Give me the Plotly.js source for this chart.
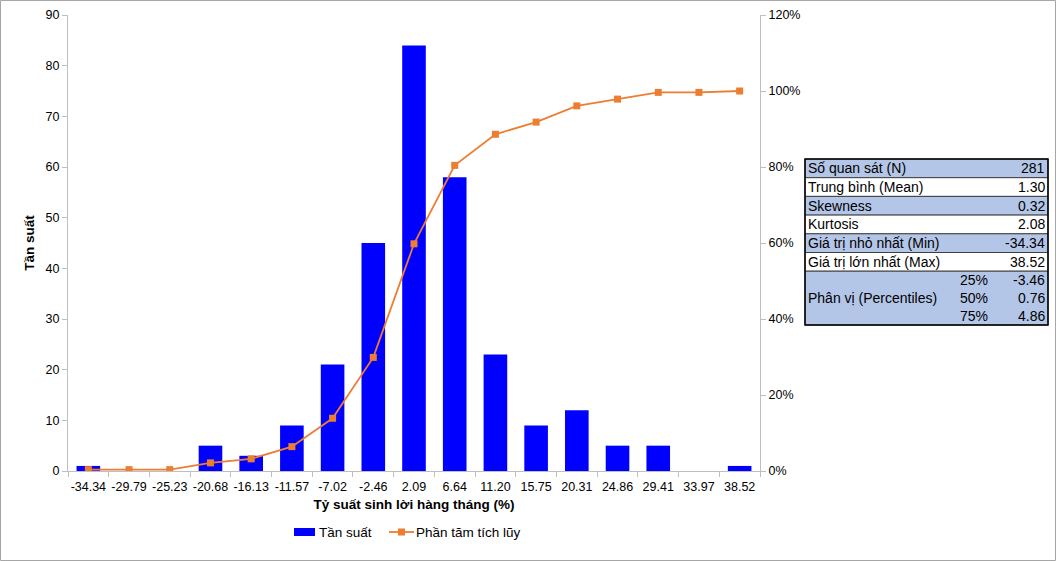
<!DOCTYPE html>
<html>
<head>
<meta charset="utf-8">
<script src="https://cdn.plot.ly/plotly-3.0.1.min.js"></script>
<style>
html,body{margin:0;padding:0;background:#fff;}
#chart{width:1056px;height:561px;}
</style>
</head>
<body>
<div id="chart"></div>
<script>
var categories = ["-34.34","-29.79","-25.23","-20.68","-16.13","-11.57","-7.02","-2.46","2.09","6.64","11.20","15.75","20.31","24.86","29.41","33.97","38.52"];
var frequency = [1,0,0,5,3,9,21,45,84,58,23,9,12,5,5,0,1];
var cumulative = [0.0036,0.0036,0.0036,0.0214,0.0320,0.0641,0.1388,0.2989,0.5979,0.8043,0.8861,0.9181,0.9609,0.9786,0.9964,0.9964,1.0];

var statLabels = ["Số quan sát (N)","Trung bình (Mean)","Skewness","Kurtosis","Giá trị nhỏ nhất (Min)","Giá trị lớn nhất (Max)"];
var statValues = ["281","1.30","0.32","2.08","-34.34","38.52"];
var pctLabels = ["25%","50%","75%"];
var pctValues = ["-3.46","0.76","4.86"];
var pctTitle = "Phân vị (Percentiles)";
var legendNames = ["Tần suất","Phần tăm tích lũy"];

var W = 1056, H = 561;
var L = 68, R = 760, T = 15, B = 471;
function px(x){ return (x - L) / (R - L); }
function py(y){ return (B - y) / (B - T); }

var FONT = "Liberation Sans, Arial, sans-serif";
var BLUE = "#0000FF", ORANGE = "#ED7D31";
var TFS = 14;
var shapes = [];
var annotations = [];

// frame border
shapes.push({type:"rect", xref:"paper", yref:"paper", x0:px(0.5), x1:px(W-0.5), y0:py(0.5), y1:py(H-0.5), line:{color:"#A6A6A6", width:1}, fillcolor:"rgba(0,0,0,0)", layer:"below"});

// table
var tx0 = 805, tx1 = 1048, ty0 = 159, rowH = 18.7;
var fills = ["#B4C6E7","#FFFFFF","#B4C6E7","#FFFFFF","#B4C6E7","#FFFFFF"];
for (var i = 0; i < statLabels.length; i++) {
  var y0 = ty0 + i*rowH, y1 = y0 + rowH;
  shapes.push({type:"rect", xref:"paper", yref:"paper", x0:px(tx0), x1:px(tx1), y0:py(y1), y1:py(y0), fillcolor:fills[i], line:{color:"#404040", width:1}});
  annotations.push({xref:"paper", yref:"paper", x:px(tx0+1), y:py((y0+y1)/2), xanchor:"left", yanchor:"middle", text:statLabels[i], showarrow:false, font:{family:FONT, size:TFS, color:"#000"}});
  annotations.push({xref:"paper", yref:"paper", x:px(tx1-1), y:py((y0+y1)/2), xanchor:"right", yanchor:"middle", text:statValues[i], showarrow:false, font:{family:FONT, size:TFS, color:"#000"}});
}
var py0 = ty0 + statLabels.length*rowH, py1 = 325;
shapes.push({type:"rect", xref:"paper", yref:"paper", x0:px(tx0), x1:px(tx1), y0:py(py1), y1:py(py0), fillcolor:"#B4C6E7", line:{color:"#404040", width:1}});
var subH = (py1 - py0) / 3;
for (var j = 0; j < pctLabels.length; j++) {
  var yc = py0 + subH*(j+0.5);
  annotations.push({xref:"paper", yref:"paper", x:px(990), y:py(yc), xanchor:"right", yanchor:"middle", text:pctLabels[j], showarrow:false, font:{family:FONT, size:TFS, color:"#000"}});
  annotations.push({xref:"paper", yref:"paper", x:px(tx1-1), y:py(yc), xanchor:"right", yanchor:"middle", text:pctValues[j], showarrow:false, font:{family:FONT, size:TFS, color:"#000"}});
}
annotations.push({xref:"paper", yref:"paper", x:px(tx0+1), y:py((py0+py1)/2), xanchor:"left", yanchor:"middle", text:pctTitle, showarrow:false, font:{family:FONT, size:TFS, color:"#000"}});
shapes.push({type:"rect", xref:"paper", yref:"paper", x0:px(tx0), x1:px(tx1), y0:py(py1), y1:py(ty0), fillcolor:"rgba(0,0,0,0)", line:{color:"#000", width:1.5}});

// custom legend
var ly = 532;
shapes.push({type:"rect", xref:"paper", yref:"paper", x0:px(294), x1:px(315), y0:py(ly+4), y1:py(ly-4), fillcolor:BLUE, line:{width:0}});
annotations.push({xref:"paper", yref:"paper", x:px(317), y:py(ly), xanchor:"left", yanchor:"middle", text:legendNames[0], showarrow:false, font:{family:FONT, size:13.5, color:"#000"}});
shapes.push({type:"line", xref:"paper", yref:"paper", x0:px(389), x1:px(414), y0:py(ly), y1:py(ly), line:{color:ORANGE, width:1.8}});
shapes.push({type:"rect", xref:"paper", yref:"paper", x0:px(398), x1:px(405), y0:py(ly+3.5), y1:py(ly-3.5), fillcolor:ORANGE, line:{width:0}});
annotations.push({xref:"paper", yref:"paper", x:px(414), y:py(ly), xanchor:"left", yanchor:"middle", text:legendNames[1], showarrow:false, font:{family:FONT, size:13.5, color:"#000"}});

var traces = [
  {type:"bar", name:legendNames[0], x:categories, y:frequency, marker:{color:BLUE}, yaxis:"y"},
  {type:"scatter", mode:"lines+markers", name:legendNames[1], x:categories, y:cumulative, yaxis:"y2",
   line:{color:ORANGE, width:1.8}, marker:{symbol:"square", size:7, color:ORANGE}}
];

var axisCommon = {showgrid:false, zeroline:false, showline:true, linecolor:"#BFBFBF", linewidth:1, ticks:"outside", ticklen:5, tickcolor:"#BFBFBF", tickfont:{family:FONT, size:12.5, color:"#000"}};

var layout = {
  width:W, height:H,
  margin:{l:L, r:W-R, t:T, b:H-B, pad:0},
  paper_bgcolor:"#fff", plot_bgcolor:"#fff",
  font:{family:FONT, size:13, color:"#000"},
  bargap:0.42,
  showlegend:false,
  xaxis:Object.assign({}, axisCommon, {type:"category", tickson:"boundaries", automargin:false, tickangle:0,
    range:[-0.5, categories.length-0.5], ticklabelstandoff:4,
    tickfont:{family:FONT, size:12.5, color:"#000"},
    title:{text:"<b>Tỷ suất sinh lời hàng tháng (%)</b>", font:{family:FONT, size:13.5, color:"#000"}, standoff:6}}),
  yaxis:Object.assign({}, axisCommon, {range:[0,90], dtick:10, automargin:false,
    title:{text:"<b>Tần suất</b>", font:{family:FONT, size:13.5, color:"#000"}, standoff:7}}),
  yaxis2:Object.assign({}, axisCommon, {range:[0,1.2], dtick:0.2, tickformat:".0%", overlaying:"y", side:"right", automargin:false}),
  shapes:shapes,
  annotations:annotations
};

Plotly.newPlot("chart", traces, layout, {displayModeBar:false, staticPlot:true});
</script>
</body>
</html>
